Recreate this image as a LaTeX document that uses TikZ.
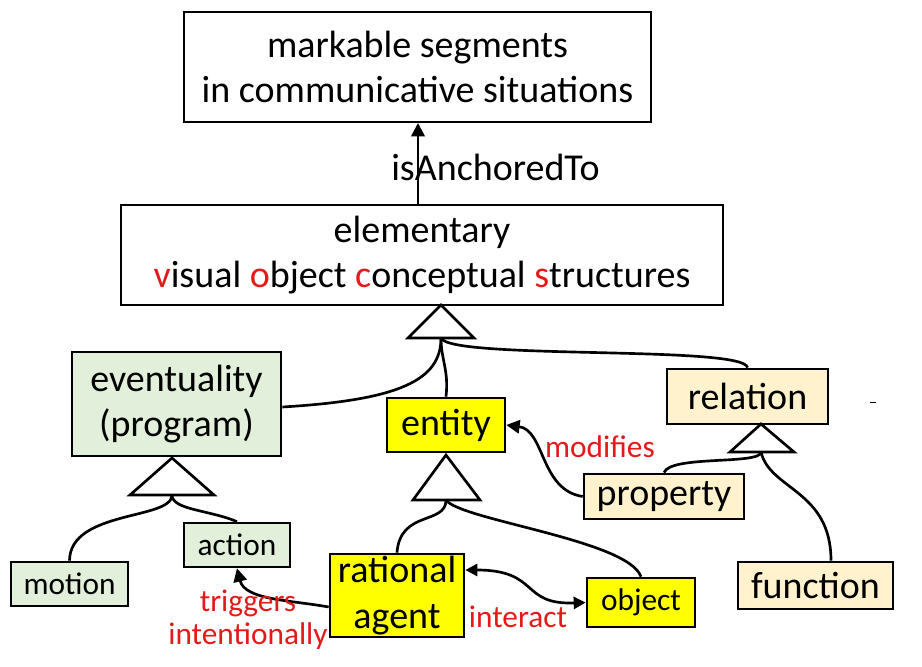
\documentclass[tikz,border=0pt]{standalone}
\usepackage{fontspec}
\setmainfont{Carlito}
\usetikzlibrary{arrows.meta,shapes.geometric}
\definecolor{gr}{HTML}{E2EFDA}
\definecolor{ye}{HTML}{FFFF00}
\definecolor{or}{HTML}{FFF2CC}
\definecolor{rd}{HTML}{E41A1A}
\begin{document}
\begin{tikzpicture}[x=0.75pt,y=-0.75pt,
 box/.style={draw,line width=2pt,align=center,inner sep=0pt},
 tri/.style={draw,line width=2pt,fill=white},
 ln/.style={line width=2pt},
 big/.style={font=\fontsize{28.5}{34}\selectfont},
 sm/.style={font=\fontsize{23.5}{28}\selectfont},
 lab/.style={font=\fontsize{23.5}{25}\selectfont,text=rd,align=center,inner sep=0pt},
 tip/.style={-{Triangle[length=10pt,width=10pt]}}]
\useasboundingbox (0,0) rectangle (922,667);
\node[box,big,minimum width=350.25pt,minimum height=82.5pt] (top) at (417.5,67) {markable segments\\in communicative situations};
\node[box,big,minimum width=451.5pt,minimum height=75pt] (el) at (422,255) {elementary\\\textcolor{rd}{v}isual \textcolor{rd}{o}bject \textcolor{rd}{c}onceptual \textcolor{rd}{s}tructures};
\draw[ln,tip] (418,205) -- (418,123);
\node[big,anchor=west,inner sep=0] (anch) at (391,167) {isAnchoredTo};
\node[box,big,fill=gr,minimum width=156.75pt,minimum height=78pt] (ev) at (176.5,404) {eventuality\\(program)};
\node[box,big,fill=ye,minimum width=88.5pt,minimum height=40.5pt] (en) at (446,425) {entity};
\node[box,big,fill=or,minimum width=120.75pt,minimum height=41.25pt] (re) at (747.5,396.5) {relation};
\node[box,big,fill=or,minimum width=120pt,minimum height=33.75pt] (pr) at (664,496.5) {property};
\node[box,big,fill=or,minimum width=116.25pt,minimum height=35.25pt] (fu) at (815.5,585.5) {function};
\node[box,sm,fill=gr,minimum width=87.75pt,minimum height=33pt] (mo) at (69.5,584) {motion};
\node[box,sm,fill=gr,minimum width=79.5pt,minimum height=33pt] (ac) at (237,545) {action};
\node[box,big,fill=ye,minimum width=100.5pt,minimum height=62.25pt] (ra) at (397,595.5) {rational\\agent};
\node[box,sm,fill=ye,minimum width=81pt,minimum height=36.75pt] (ob) at (641,602.5) {object};
\coordinate (t1) at (441,338);
\coordinate (t2) at (172,495);
\coordinate (t3) at (446,500);
\coordinate (t4) at (761,452);
\draw[ln] (ev.east|-0,407) .. controls (400,400) and (441,380) .. (t1);
\draw[ln] (en.north) .. controls (449,370) and (441,360) .. (t1);
\draw[ln] (re.north) .. controls (745,345) and (450,360) .. (t1);
\draw[ln] (pr.north) .. controls (670,455) and (761,465) .. (t4);
\draw[ln] (fu.north -| 831,0) .. controls (831,490) and (770,490) .. (t4);
\draw[ln] (mo.north) .. controls (70,510) and (172,520) .. (t2);
\draw[ln] (ac.north) .. controls (210,510) and (172,510) .. (t2);
\draw[ln] (ra.north) .. controls (400,510) and (446,525) .. (t3);
\draw[ln] (ob.north) .. controls (628,540) and (460,520) .. (t3);
\draw[tri] (441,305) -- (474,338) -- (408,338) -- cycle;
\draw[tri] (172,458) -- (214,495) -- (130,495) -- cycle;
\draw[tri] (446,455) -- (480,500) -- (413,500) -- cycle;
\draw[tri] (761,424) -- (794,452) -- (730,452) -- cycle;
\draw[ln,tip] (pr.west) .. controls (540,490) and (545,430) .. (en.east);
\node[lab] (mod) at (600,447) {modifies};
\draw[ln,tip] (ra.west|-0,607) .. controls (290,600) and (245,600) .. (ac.south);
\node[lab] (trg) at (248,620) {triggers\\intentionally};
\draw[ln,{Triangle[length=9pt,width=9pt]}-{Triangle[length=9pt,width=9pt]}] (ra.east|-0,570) .. controls (540,570) and (520,605) .. (ob.west);
\node[lab] (int) at (518,617) {interact};
\draw[line width=0.6pt] (870,402) -- (876,402);
\end{tikzpicture}
\end{document}
